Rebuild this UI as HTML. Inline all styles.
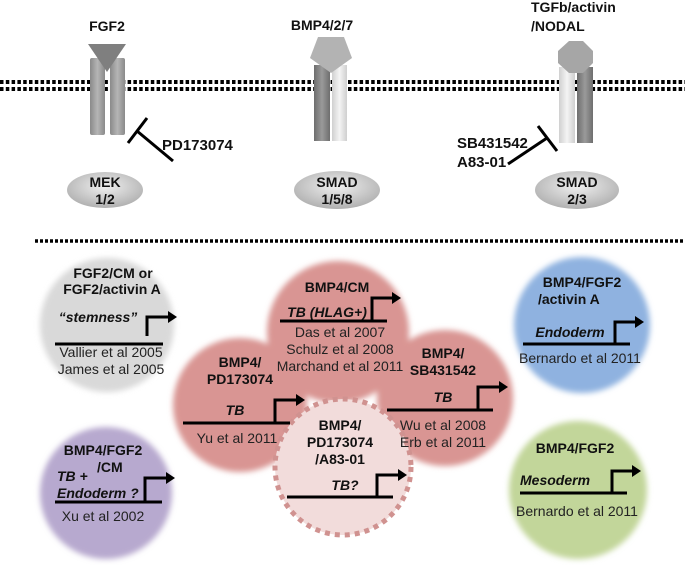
<!DOCTYPE html>
<html><head><meta charset="utf-8"><style>
html,body{margin:0;padding:0;background:#fff;}
svg{display:block;}
text{font-family:"Liberation Sans",Arial,sans-serif;fill:#111;}
.b{font-weight:bold;font-size:14px;}
.c{font-size:14px;fill:#222;}
.bi{font-weight:bold;font-style:italic;font-size:14px;}
</style></head><body>
<svg width="685" height="565" viewBox="0 0 685 565" xmlns="http://www.w3.org/2000/svg">
<defs>
<filter id="bl" x="-20%" y="-20%" width="140%" height="140%"><feGaussianBlur stdDeviation="3"/></filter>
<linearGradient id="gb" x1="0" x2="1"><stop offset="0" stop-color="#8a8a8a"/><stop offset="0.5" stop-color="#b5b5b5"/><stop offset="1" stop-color="#8a8a8a"/></linearGradient>
<linearGradient id="gd" x1="0" x2="1"><stop offset="0" stop-color="#6e6e6e"/><stop offset="0.5" stop-color="#9a9a9a"/><stop offset="1" stop-color="#6e6e6e"/></linearGradient>
<linearGradient id="gl" x1="0" x2="1"><stop offset="0" stop-color="#d0d0d0"/><stop offset="0.5" stop-color="#f4f4f4"/><stop offset="1" stop-color="#cfcfcf"/></linearGradient>
<radialGradient id="ge" cx="0.5" cy="0.4" r="0.6"><stop offset="0" stop-color="#f0f0f0"/><stop offset="1" stop-color="#b0b0b0"/></radialGradient>
</defs>

<!-- membrane -->
<line x1="0" y1="82" x2="685" y2="82" stroke="#000" stroke-width="4" stroke-dasharray="3.5 2.3"/>
<line x1="0" y1="89" x2="685" y2="89" stroke="#000" stroke-width="4" stroke-dasharray="3.5 2.3"/>
<line x1="35" y1="241" x2="685" y2="241" stroke="#000" stroke-width="3.5" stroke-dasharray="3 2"/>

<!-- FGF2 receptor -->
<text class="b" x="107" y="31" text-anchor="middle">FGF2</text>
<rect x="90" y="58" width="15" height="77" rx="2" fill="url(#gb)"/>
<rect x="110" y="58" width="15" height="77" rx="2" fill="url(#gb)"/>
<polygon points="88,44 126,44 107,72" fill="#7f7f7f"/>
<line x1="128" y1="143" x2="147" y2="118" stroke="#000" stroke-width="3"/>
<line x1="137" y1="131" x2="173" y2="161" stroke="#000" stroke-width="3"/>
<text class="b" x="162" y="150" style="font-size:15px">PD173074</text>
<ellipse cx="105" cy="190" rx="38" ry="18" fill="url(#ge)"/>
<text class="b" x="105" y="187" text-anchor="middle">MEK</text>
<text class="b" x="105" y="204" text-anchor="middle">1/2</text>

<!-- BMP receptor -->
<text class="b" x="322" y="30" text-anchor="middle">BMP4/2/7</text>
<rect x="314" y="65" width="16" height="76" fill="url(#gd)"/>
<rect x="332" y="65" width="15" height="76" fill="url(#gl)"/>
<polygon points="318,37 344,37 352,58 331,73 310,58" fill="#b3b3b3"/>
<ellipse cx="337" cy="190" rx="43" ry="19" fill="url(#ge)"/>
<text class="b" x="337" y="187" text-anchor="middle">SMAD</text>
<text class="b" x="337" y="204" text-anchor="middle">1/5/8</text>

<!-- TGFb receptor -->
<text class="b" x="531" y="12">TGFb/activin</text>
<text class="b" x="531" y="31">/NODAL</text>
<rect x="559" y="67" width="16" height="76" fill="url(#gl)"/>
<rect x="577" y="67" width="16" height="76" fill="url(#gd)"/>
<polygon points="569,41 583,41 593,51 593,63 583,73 569,73 558,63 558,51" fill="#a6a6a6"/>
<line x1="538" y1="126" x2="557" y2="151" stroke="#000" stroke-width="3"/>
<line x1="547" y1="138" x2="508" y2="164" stroke="#000" stroke-width="3"/>
<text class="b" x="457" y="148" style="font-size:15px">SB431542</text>
<text class="b" x="457" y="167" style="font-size:15px">A83-01</text>
<ellipse cx="577" cy="190" rx="42" ry="19" fill="url(#ge)"/>
<text class="b" x="577" y="187" text-anchor="middle">SMAD</text>
<text class="b" x="577" y="204" text-anchor="middle">2/3</text>

<!-- circles -->
<g filter="url(#bl)">
<circle cx="107" cy="325" r="67" fill="#d9d9d9"/>
<circle cx="106" cy="493" r="66" fill="#b7a9cf"/>
<circle cx="582" cy="325" r="68" fill="#8fb2e0"/>
<circle cx="578" cy="490" r="69" fill="#c2d69a"/>
<circle cx="338" cy="332" r="71" fill="#d99593"/>
<circle cx="240" cy="405" r="67" fill="#d99593"/>
<circle cx="445" cy="398" r="68" fill="#d99593"/>
</g>
<circle cx="343" cy="467" r="68" fill="#f2dcdb" stroke="#d09290" stroke-width="5" stroke-dasharray="5 5"/>

<!-- grey -->
<text class="b" x="113" y="278" text-anchor="middle">FGF2/CM  or</text>
<text class="b" x="112" y="294" text-anchor="middle">FGF2/activin A</text>
<text class="bi" x="98" y="322" text-anchor="middle">“stemness”</text>
<line x1="55" y1="344" x2="163" y2="344" stroke="#000" stroke-width="3"/>
<polyline points="147,336 147,317 170,317" fill="none" stroke="#000" stroke-width="3"/>
<polygon points="177,317 168,311 168,323" fill="#000"/>
<text class="c" x="111" y="357" text-anchor="middle">Vallier et al 2005</text>
<text class="c" x="111" y="374" text-anchor="middle">James et al 2005</text>

<!-- purple -->
<text class="b" x="103" y="455" text-anchor="middle">BMP4/FGF2</text>
<text class="b" x="97" y="472">/CM</text>
<text class="bi" x="57" y="481">TB +</text>
<text class="bi" x="57" y="498">Endoderm ?</text>
<line x1="55" y1="502" x2="162" y2="502" stroke="#000" stroke-width="3"/>
<polyline points="145,502 145,478 168,478" fill="none" stroke="#000" stroke-width="3"/>
<polygon points="175,478 166,472 166,484" fill="#000"/>
<text class="c" x="103" y="521" text-anchor="middle">Xu et al 2002</text>

<!-- blue -->
<text class="b" x="582" y="287" text-anchor="middle">BMP4/FGF2</text>
<text class="b" x="538" y="304">/activin A</text>
<text class="bi" x="570" y="337" text-anchor="middle">Endoderm</text>
<line x1="523" y1="344" x2="630" y2="344" stroke="#000" stroke-width="3"/>
<polyline points="615,344 615,322 637,322" fill="none" stroke="#000" stroke-width="3"/>
<polygon points="644,322 635,316 635,328" fill="#000"/>
<text class="c" x="580" y="363" text-anchor="middle">Bernardo et al 2011</text>

<!-- green -->
<text class="b" x="575" y="453" text-anchor="middle">BMP4/FGF2</text>
<text class="bi" x="520" y="485">Mesoderm</text>
<line x1="520" y1="493" x2="627" y2="493" stroke="#000" stroke-width="3"/>
<polyline points="612,493 612,471 634,471" fill="none" stroke="#000" stroke-width="3"/>
<polygon points="641,471 632,465 632,477" fill="#000"/>
<text class="c" x="577" y="516" text-anchor="middle">Bernardo et al 2011</text>

<!-- BMP4/CM -->
<text class="b" x="337" y="292" text-anchor="middle">BMP4/CM</text>
<text class="bi" x="327" y="317" text-anchor="middle">TB (HLAG+)</text>
<line x1="280" y1="321" x2="387" y2="321" stroke="#000" stroke-width="3"/>
<polyline points="372,321 372,298 394,298" fill="none" stroke="#000" stroke-width="3"/>
<polygon points="401,298 392,292 392,304" fill="#000"/>
<text class="c" x="340" y="337" text-anchor="middle">Das et al 2007</text>
<text class="c" x="340" y="354" text-anchor="middle">Schulz et al 2008</text>
<text class="c" x="340" y="371" text-anchor="middle">Marchand et al 2011</text>

<!-- BMP4/PD -->
<text class="b" x="240" y="367" text-anchor="middle">BMP4/</text>
<text class="b" x="240" y="384" text-anchor="middle">PD173074</text>
<text class="bi" x="235" y="415" text-anchor="middle">TB</text>
<line x1="183" y1="423" x2="290" y2="423" stroke="#000" stroke-width="3"/>
<polyline points="275,423 275,400 298,400" fill="none" stroke="#000" stroke-width="3"/>
<polygon points="305,400 296,394 296,406" fill="#000"/>
<text class="c" x="237" y="443" text-anchor="middle">Yu et al 2011</text>

<!-- BMP4/SB -->
<text class="b" x="443" y="358" text-anchor="middle">BMP4/</text>
<text class="b" x="443" y="375" text-anchor="middle">SB431542</text>
<text class="bi" x="443" y="402" text-anchor="middle">TB</text>
<line x1="387" y1="410" x2="493" y2="410" stroke="#000" stroke-width="3"/>
<polyline points="478,410 478,387 501,387" fill="none" stroke="#000" stroke-width="3"/>
<polygon points="508,387 499,381 499,393" fill="#000"/>
<text class="c" x="443" y="430" text-anchor="middle">Wu et al 2008</text>
<text class="c" x="443" y="447" text-anchor="middle">Erb et al 2011</text>

<!-- dashed -->
<text class="b" x="340" y="430" text-anchor="middle">BMP4/</text>
<text class="b" x="340" y="447" text-anchor="middle">PD173074</text>
<text class="b" x="340" y="464" text-anchor="middle">/A83-01</text>
<text class="bi" x="345" y="490" text-anchor="middle">TB?</text>
<line x1="287" y1="497" x2="393" y2="497" stroke="#000" stroke-width="3"/>
<polyline points="377,497 377,475 400,475" fill="none" stroke="#000" stroke-width="3"/>
<polygon points="407,475 398,469 398,481" fill="#000"/>
</svg>
</body></html>
